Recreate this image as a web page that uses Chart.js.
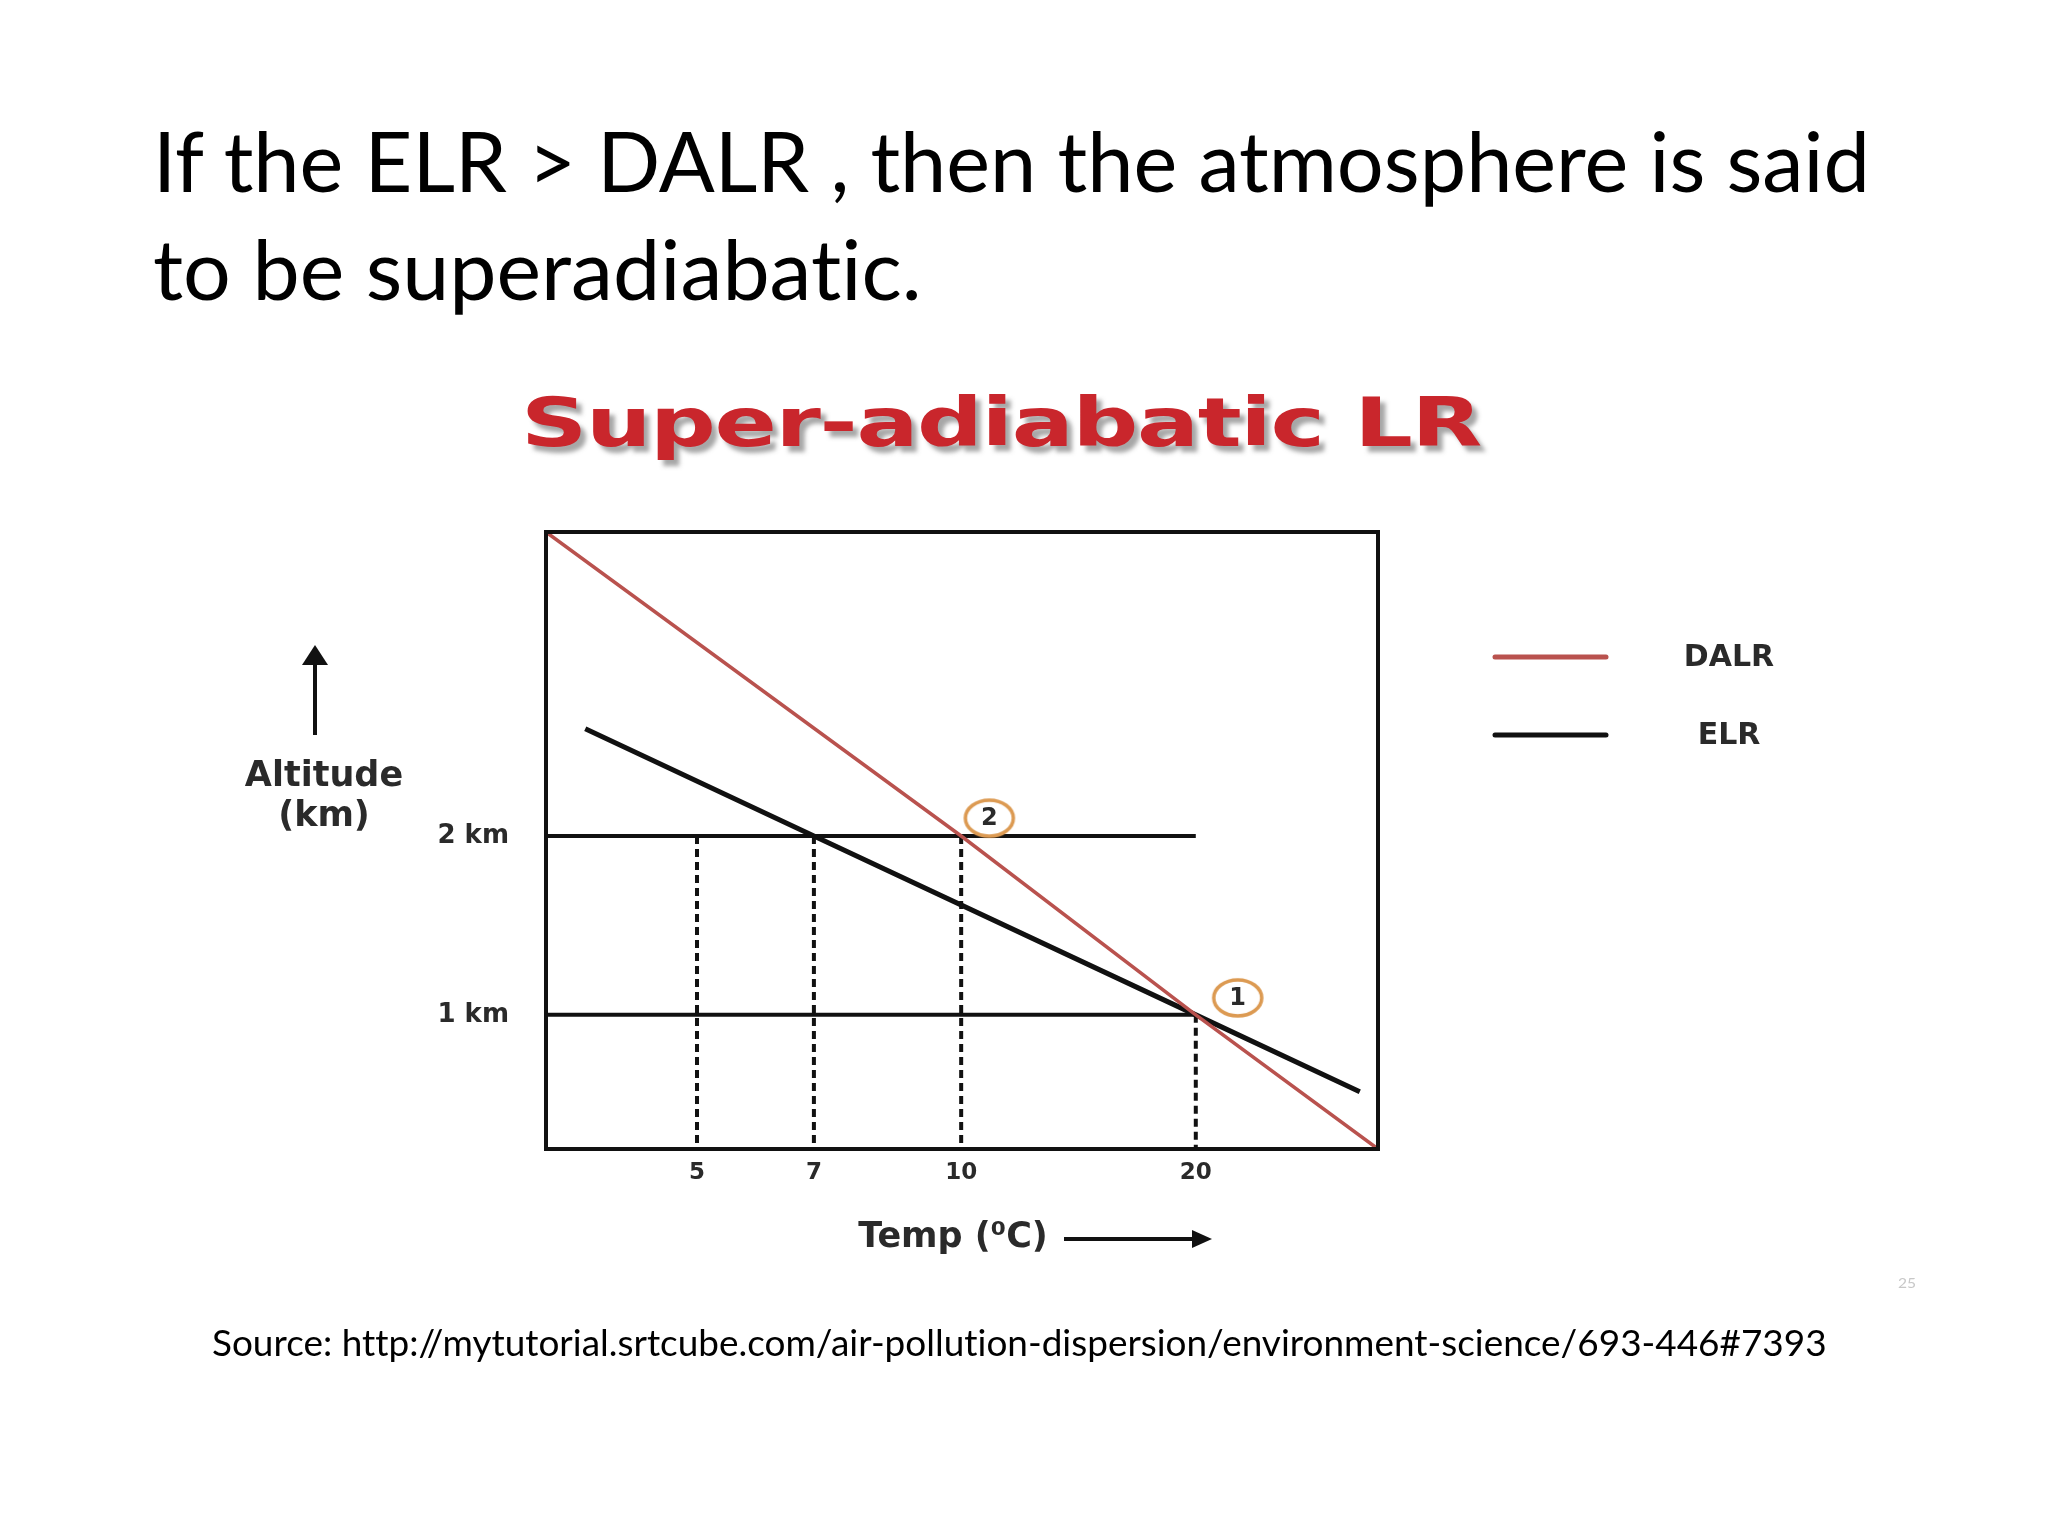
<!DOCTYPE html>
<html>
<head>
<meta charset="utf-8">
<script src="https://cdn.jsdelivr.net/npm/chart.js@4.4.1/dist/chart.umd.min.js"></script>
<style>
  html, body { margin:0; padding:0; background:#fff; }
  body { width:2048px; height:1536px; position:relative; overflow:hidden; }
  .t { position:absolute; white-space:nowrap; line-height:1; z-index:2; left:0; top:0;
       font-variant-ligatures:none; font-feature-settings:"liga" 0, "clig" 0, "dlig" 0; }
  #h1, #h2 { font-family: Lato, "Open Sans", sans-serif; font-size:84px; color:#000; }
  #ttl { font-family: "DejaVu Sans", Verdana, sans-serif; font-weight:bold; font-size:67px; color:#c9262c;
         letter-spacing:-1px; text-shadow: 4px 6px 4px rgba(80,80,80,0.5); }
  #src { font-family: Lato, "Open Sans", sans-serif; font-size:37px; color:#000; }
  #pg { font-family: Lato, sans-serif; font-size:13px; color:#c8c8c8; }
  canvas { position:absolute; left:0; top:0; z-index:1; }
</style>
</head>
<body>
<div id="h1" class="t">If the ELR &gt; DALR , then the atmosphere is said</div>
<div id="h2" class="t">to be superadiabatic.</div>
<div id="ttl" class="t">Super-adiabatic LR</div>
<div id="src" class="t">Source: http://mytutorial.srtcube.com/air-pollution-dispersion/environment-science/693-446#7393</div>
<div id="pg" class="t">25</div>
<canvas id="c" width="2048" height="1536"></canvas>
<script>
// ---------------- data ----------------
const seriesNames   = ['DALR', 'ELR'];
const dalrTemp      = [0, 10, 20, 30];          // °C (schematic)
const dalrAlt       = [3.7, 2, 1, 0.25];        // km
const elrTemp       = [1.3, 7, 20, 29];
const elrAlt        = [2.6, 2, 1, 0.57];
const levelAlts     = [2, 1];                   // horizontal levels, km
const levelEndTemp  = [20, 20];
const dropTemps     = [5, 7, 10, 20];           // dashed drop lines
const dropTopAlt    = [2, 2, 2, 1];
const xTickTemps    = [5, 7, 10, 20];
const yTickAlts     = [1, 2];
const markerTemp    = [11.2, 22.3];
const markerAlt     = [2.1, 1.095];
const markerLabels  = ['2', '1'];
const tempMin = 0, tempMax = 30, altMin = 0.25, altMax = 3.7;

// ---------------- schematic (non-linear) temperature scale ----------------
const xWarp = { t: [0, 5, 7, 10, 20, 30], f: [0, 0.1815, 0.322, 0.499, 0.781, 1] };

class WarpScale extends Chart.LinearScale {
  static id = 'warp';
  static defaults = {};
  _dec(v) {
    const t = xWarp.t, f = xWarp.f;
    if (v <= t[0]) return f[0];
    for (let i = 1; i < t.length; i++) {
      if (v <= t[i]) return f[i-1] + (v - t[i-1]) / (t[i] - t[i-1]) * (f[i] - f[i-1]);
    }
    return f[f.length - 1];
  }
  getPixelForValue(v) {
    if (v === null || v === undefined) return NaN;
    return this.getPixelForDecimal(this._dec(v));
  }
  getValueForPixel(p) {
    const d = this.getDecimalForPixel(p), t = xWarp.t, f = xWarp.f;
    for (let i = 1; i < f.length; i++) {
      if (d <= f[i]) return t[i-1] + (d - f[i-1]) / (f[i] - f[i-1]) * (t[i] - t[i-1]);
    }
    return t[t.length - 1];
  }
}
Chart.register(WarpScale);

const pts = (xs, ys) => xs.map((x, i) => ({ x, y: ys[i] }));
const INK = '#111';
const DALR_COL = '#b9524e';
const MARK_COL = '#dc9a52';

// elliptical badge used as the marker point style
const badge = document.createElement('canvas');
badge.width = 56; badge.height = 44;
(function () {
  const g = badge.getContext('2d');
  g.fillStyle = '#fff'; g.strokeStyle = MARK_COL; g.lineWidth = 3.5;
  g.beginPath(); g.ellipse(28, 22, 24, 18, 0, 0, Math.PI * 2); g.fill(); g.stroke();
})();

const datasets = [
  { label: 'markers', data: pts(markerTemp, markerAlt), showLine: false,
    pointStyle: badge, pointRadius: 20, order: 0 },
  { label: seriesNames[0], data: pts(dalrTemp, dalrAlt), showLine: true,
    borderColor: DALR_COL, borderWidth: 3.5, pointRadius: 0, order: 1, legend: true },
  { label: seriesNames[1], data: pts(elrTemp, elrAlt), showLine: true,
    borderColor: INK, borderWidth: 5, pointRadius: 0, order: 2, legend: true },
  ...levelAlts.map((a, i) => ({
    label: a + ' km level', data: [{ x: tempMin, y: a }, { x: levelEndTemp[i], y: a }],
    showLine: true, borderColor: INK, borderWidth: 4, pointRadius: 0, order: 3 })),
  ...dropTemps.map((t, i) => ({
    label: 'drop ' + t, data: [{ x: t, y: dropTopAlt[i] }, { x: t, y: altMin }],
    showLine: true, borderColor: INK, borderWidth: 4, borderDash: [8, 5],
    pointRadius: 0, order: 4 }))
];

function arrow(ctx, x1, y1, x2, y2, headLen, headHalf) {
  const ang = Math.atan2(y2 - y1, x2 - x1);
  const bx = x2 - headLen * Math.cos(ang), by = y2 - headLen * Math.sin(ang);
  ctx.beginPath(); ctx.moveTo(x1, y1); ctx.lineTo(bx, by); ctx.stroke();
  ctx.beginPath();
  ctx.moveTo(x2, y2);
  ctx.lineTo(bx + headHalf * Math.sin(ang), by - headHalf * Math.cos(ang));
  ctx.lineTo(bx - headHalf * Math.sin(ang), by + headHalf * Math.cos(ang));
  ctx.closePath(); ctx.fill();
}

const decor = {
  id: 'decor',
  afterDatasetsDraw(chart) {
    const { ctx, chartArea: a } = chart;
    ctx.save();
    // frame
    ctx.strokeStyle = INK; ctx.lineWidth = 4; ctx.setLineDash([]);
    ctx.strokeRect(a.left, a.top, a.right - a.left, a.bottom - a.top);
    // marker numbers
    ctx.fillStyle = '#2a2a2a'; ctx.font = 'bold 24px "DejaVu Sans"';
    ctx.textAlign = 'center'; ctx.textBaseline = 'middle';
    chart.getDatasetMeta(0).data.forEach((p, i) => ctx.fillText(markerLabels[i], p.x, p.y + 1));
    // legend
    ctx.font = 'bold 30px "DejaVu Sans"'; ctx.textAlign = 'center';
    let k = 0;
    chart.data.datasets.forEach(ds => {
      if (!ds.legend) return;
      const y = a.top + 125 + k * 78;
      ctx.strokeStyle = ds.borderColor; ctx.lineWidth = 5; ctx.lineCap = 'round';
      ctx.beginPath(); ctx.moveTo(a.right + 117, y); ctx.lineTo(a.right + 228, y); ctx.stroke();
      ctx.fillStyle = '#2a2a2a';
      ctx.fillText(ds.label, a.right + 351, y + 1);
      k++;
    });
    ctx.lineCap = 'butt';
    // x axis title + arrow
    ctx.fillStyle = '#2a2a2a'; ctx.strokeStyle = INK;
    ctx.font = 'bold 35px "DejaVu Sans"'; ctx.textAlign = 'center'; ctx.textBaseline = 'alphabetic';
    ctx.fillText('Temp (\u2070C)', a.left + 407, a.bottom + 98);
    ctx.fillStyle = INK; ctx.lineWidth = 4;
    arrow(ctx, a.left + 518, a.bottom + 90, a.left + 666, a.bottom + 90, 20, 9);
    // y axis title + arrow
    ctx.fillStyle = '#2a2a2a';
    ctx.font = 'bold 35px "DejaVu Sans"';
    ctx.fillText('Altitude', a.left - 222, a.top + 254);
    ctx.fillText('(km)', a.left - 222, a.top + 294);
    ctx.fillStyle = INK;
    arrow(ctx, a.left - 231, a.top + 203, a.left - 231, a.top + 113, 20, 13);
    ctx.restore();
  }
};

new Chart(document.getElementById('c'), {
  type: 'scatter',
  data: { datasets },
  options: {
    responsive: false, animation: false, devicePixelRatio: 1,
    layout: { padding: { left: 416, top: 532, right: 670, bottom: 327 } },
    plugins: { legend: { display: false }, tooltip: { enabled: false } },
    scales: {
      x: {
        type: 'warp', min: tempMin, max: tempMax,
        grid: { display: false, drawTicks: false }, border: { display: false },
        ticks: { autoSkip: false, maxRotation: 0, padding: 10, color: '#2a2a2a',
                 font: { family: 'DejaVu Sans', weight: 'bold', size: 23 } },
        afterBuildTicks: s => { s.ticks = xTickTemps.map(v => ({ value: v })); },
        afterFit: s => { s.height = 60; }
      },
      y: {
        type: 'linear', min: altMin, max: altMax,
        grid: { display: false, drawTicks: false }, border: { display: false },
        ticks: { autoSkip: false, padding: 37, color: '#2a2a2a',
                 font: { family: 'DejaVu Sans', weight: 'bold', size: 26 },
                 callback: v => v + ' km' },
        afterBuildTicks: s => { s.ticks = yTickAlts.map(v => ({ value: v })); },
        afterFit: s => { s.width = 130; }
      }
    }
  },
  plugins: [decor]
});

// ---------------- page text placement ----------------
function place(id, x, baseline, width, anchor) {
  const el = document.getElementById(id);
  const probe = document.createElement('span');
  probe.style.cssText = 'display:inline-block;width:0;height:0;vertical-align:baseline';
  el.appendChild(probe);
  const base = probe.offsetTop;
  el.removeChild(probe);
  const w = el.offsetWidth;
  const s = width ? width / w : 1;
  const realW = w * s;
  const left = anchor === 'center' ? x - realW / 2 : x;
  el.style.transformOrigin = '0 0';
  el.style.transform = 'scaleX(' + s + ')';
  el.style.left = left + 'px';
  el.style.top = (baseline - base) + 'px';
}
function layoutText() {
  place('h1', 153, 192, 1717);
  place('h2', 153, 300, 769);
  place('ttl', 1001, 446, 960, 'center');
  place('src', 212, 1356, 1615);
  place('pg', 1898, 1288, 18);
}
layoutText();
if (document.fonts && document.fonts.ready) document.fonts.ready.then(layoutText);
</script>
</body>
</html>
